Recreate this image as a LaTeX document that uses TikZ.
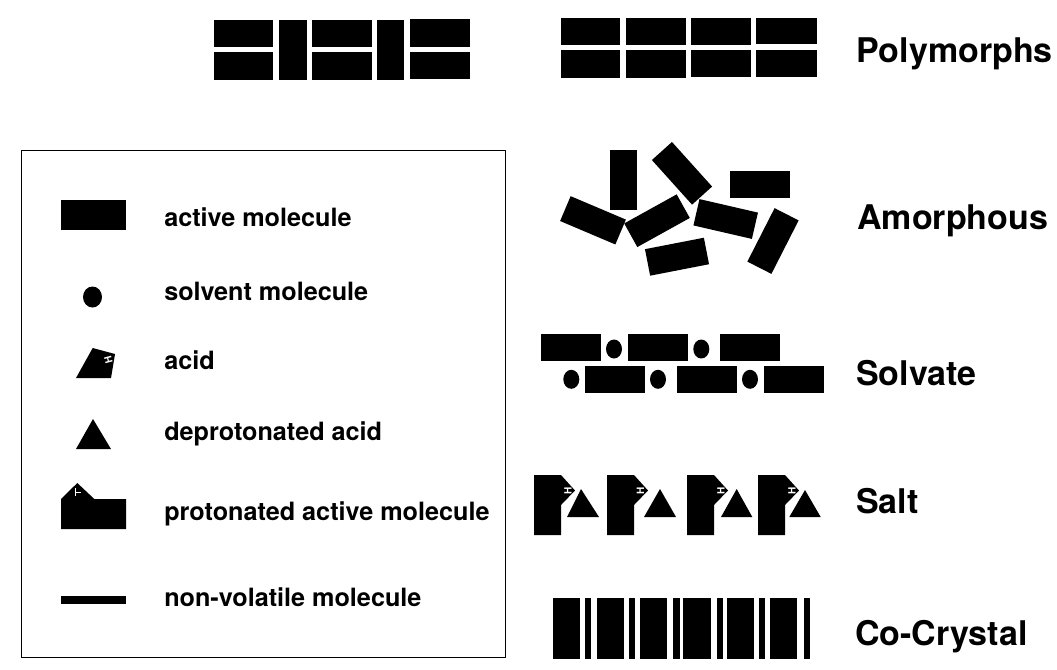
\documentclass[tikz,border=0pt]{standalone}
\usepackage{fontspec}
\setmainfont{TeX Gyre Heros}
\usetikzlibrary{shapes.geometric}
\tikzset{
    mol/.style={rectangle, fill=black, inner sep=0pt, minimum width=45pt, minimum height=20.25pt},
    molbox/.style 2 args={rectangle, fill=black, inner sep=0pt, minimum width=#1*0.75pt, minimum height=#2*0.75pt},
    solvent/.style={ellipse, fill=black, inner sep=0pt, minimum width=12pt, minimum height=14.25pt},
    hmark/.style={white, font=\bfseries\fontsize{7.5}{8}\selectfont, inner sep=0pt},
    title/.style={anchor=base west, inner sep=0pt, font=\bfseries\fontsize{25.5}{28}\selectfont},
    legtext/.style={anchor=base west, inner sep=0pt, font=\bfseries\fontsize{18.9}{22}\selectfont}
}
\begin{document}
\begin{tikzpicture}[x=0.75pt, y=-0.75pt]
    \useasboundingbox (0,0) rectangle (1057,669);
    % legend
    \node[draw=black, line width=0.8pt, inner sep=0pt, minimum width=362.6pt, minimum height=380pt] (legend) at (263.5,404) {};
    \node[molbox={65}{30}] (legmol) at (93.5,215) {};
    \node[solvent, minimum height=15.75pt, minimum width=14.25pt] (legsolv) at (92.5,297) {};
    \fill (92.7,348) -- (115,354) -- (111,378) -- (76,378) -- cycle;
    \node[hmark, rotate=105] (legacidh) at (108.5,360) {H};
    \fill (93,419) -- (111,449) -- (76,449) -- cycle;
    \fill (61,499) -- (77.3,483) -- (94.3,499) -- (126,499) -- (126,529) -- (61,529) -- cycle;
    \draw[white, line width=0.7pt] (75.7,488.3) -- (75.7,495.7) (75.7,492.3) -- (80.7,492.3);
    \node[molbox={65}{8}] (legline) at (93.5,600) {};
    \node[legtext] (activetext) at (164,226.5) {active molecule};
    \node[legtext] (solventtext) at (164,300.7) {solvent molecule};
    \node[legtext] (acidtext) at (164,369) {acid};
    \node[legtext] (deprottext) at (164,440) {deprotonated acid};
    \node[legtext] (prottext) at (164,520) {protonated active molecule};
    \node[legtext] (nonvoltext) at (164,606.5) {non-volatile molecule};
    % polymorphs
    \node[molbox={59}{27}] (pa1) at (243.5,33.5) {};
    \node[molbox={59}{28}] (pa2) at (243.5,66) {};
    \node[molbox={28}{60}] (pa3) at (293,50) {};
    \node[molbox={60}{27}] (pa4) at (342,33.5) {};
    \node[molbox={60}{28}] (pa5) at (342,66) {};
    \node[molbox={27}{60}] (pa6) at (390.5,50) {};
    \node[molbox={60}{28}] (pa7) at (440,33) {};
    \node[molbox={60}{27}] (pa8) at (440,65.5) {};
    \node[molbox={59}{27}] (pb1) at (590.5,31.5) {};
    \node[molbox={59}{28}] (pb2) at (590.5,64) {};
    \node[molbox={60}{27}] (pb3) at (656,31.5) {};
    \node[molbox={60}{28}] (pb4) at (656,64) {};
    \node[molbox={60}{27}] (pb5) at (721,31.5) {};
    \node[molbox={60}{27}] (pb6) at (721,63.5) {};
    \node[molbox={61}{26}] (pb7) at (786.5,31) {};
    \node[molbox={61}{27}] (pb8) at (786.5,63.5) {};
    \node[title] (polytext) at (856.5,62) {Polymorphs};
    % amorphous
    \node[mol, rotate=90] (am1) at (623.5,180) {};
    \node[mol, rotate=-48] (am2) at (682,173.3) {};
    \node[mol] (am3) at (760,184.5) {};
    \node[mol, rotate=-23] (am4) at (593,220.3) {};
    \node[mol, rotate=29] (am5) at (657,220.7) {};
    \node[mol, rotate=-13] (am6) at (725.7,219) {};
    \node[mol, rotate=11] (am7) at (677,256.7) {};
    \node[mol, rotate=63] (am8) at (773,241) {};
    \node[title] (amortext) at (857,229) {Amorphous};
    % solvate
    \node[mol] (so1) at (571,347.5) {};
    \node[solvent] (so2) at (614,349) {};
    \node[mol] (so3) at (658,347.5) {};
    \node[solvent] (so4) at (701.3,349) {};
    \node[mol] (so5) at (750,347.5) {};
    \node[solvent] (so6) at (571.3,379.3) {};
    \node[mol] (so7) at (614.5,379.5) {};
    \node[solvent] (so8) at (658,379.3) {};
    \node[mol] (so9) at (707,379.5) {};
    \node[solvent] (so10) at (750,379.3) {};
    \node[mol] (so11) at (794,379.5) {};
    \node[title] (solvtext) at (856,385) {Solvate};
    % salt
    \fill (534,475) -- (561,475) -- (575,490.5) -- (561,505) -- (561,535) -- (534,535) -- cycle;
    \fill (581,489) -- (599,517) -- (567,517) -- cycle;
    \node[hmark, rotate=90] (sh1) at (568,491) {H};
    \fill (607,475) -- (634,475) -- (648,490.5) -- (634,505) -- (634,535) -- (607,535) -- cycle;
    \fill (660,489) -- (676,517) -- (644,517) -- cycle;
    \node[hmark, rotate=90] (sh2) at (640.5,491) {H};
    \fill (687,475) -- (714,475) -- (728,490.5) -- (714,505) -- (714,535) -- (687,535) -- cycle;
    \fill (736.7,489) -- (752.3,517) -- (721,517) -- cycle;
    \node[hmark, rotate=90] (sh3) at (721,491) {H};
    \fill (758,475) -- (785,475) -- (799,490.5) -- (785,505) -- (785,535) -- (758,535) -- cycle;
    \fill (805,490) -- (820.7,517) -- (789.3,517) -- cycle;
    \node[hmark, rotate=90] (sh4) at (792,491) {H};
    \node[title] (salttext) at (856,513) {Salt};
    % co-crystal
    \node[molbox={27}{61}] (co1) at (566.5,628.5) {};
    \node[molbox={6}{61}] (co2) at (588,628.5) {};
    \node[molbox={27}{61}] (co3) at (610.5,628.5) {};
    \node[molbox={6}{61}] (co4) at (632,628.5) {};
    \node[molbox={27}{61}] (co5) at (653.5,628.5) {};
    \node[molbox={7}{61}] (co6) at (676.5,628.5) {};
    \node[molbox={28}{61}] (co7) at (697,628.5) {};
    \node[molbox={6}{61}] (co8) at (720,628.5) {};
    \node[molbox={27}{61}] (co9) at (740.5,628.5) {};
    \node[molbox={6}{61}] (co10) at (762,628.5) {};
    \node[molbox={27}{61}] (co11) at (783.5,628.5) {};
    \node[molbox={6}{61}] (co12) at (807,628.5) {};
    \node[title] (cotext) at (855,645) {Co-Crystal};
\end{tikzpicture}
\end{document}
